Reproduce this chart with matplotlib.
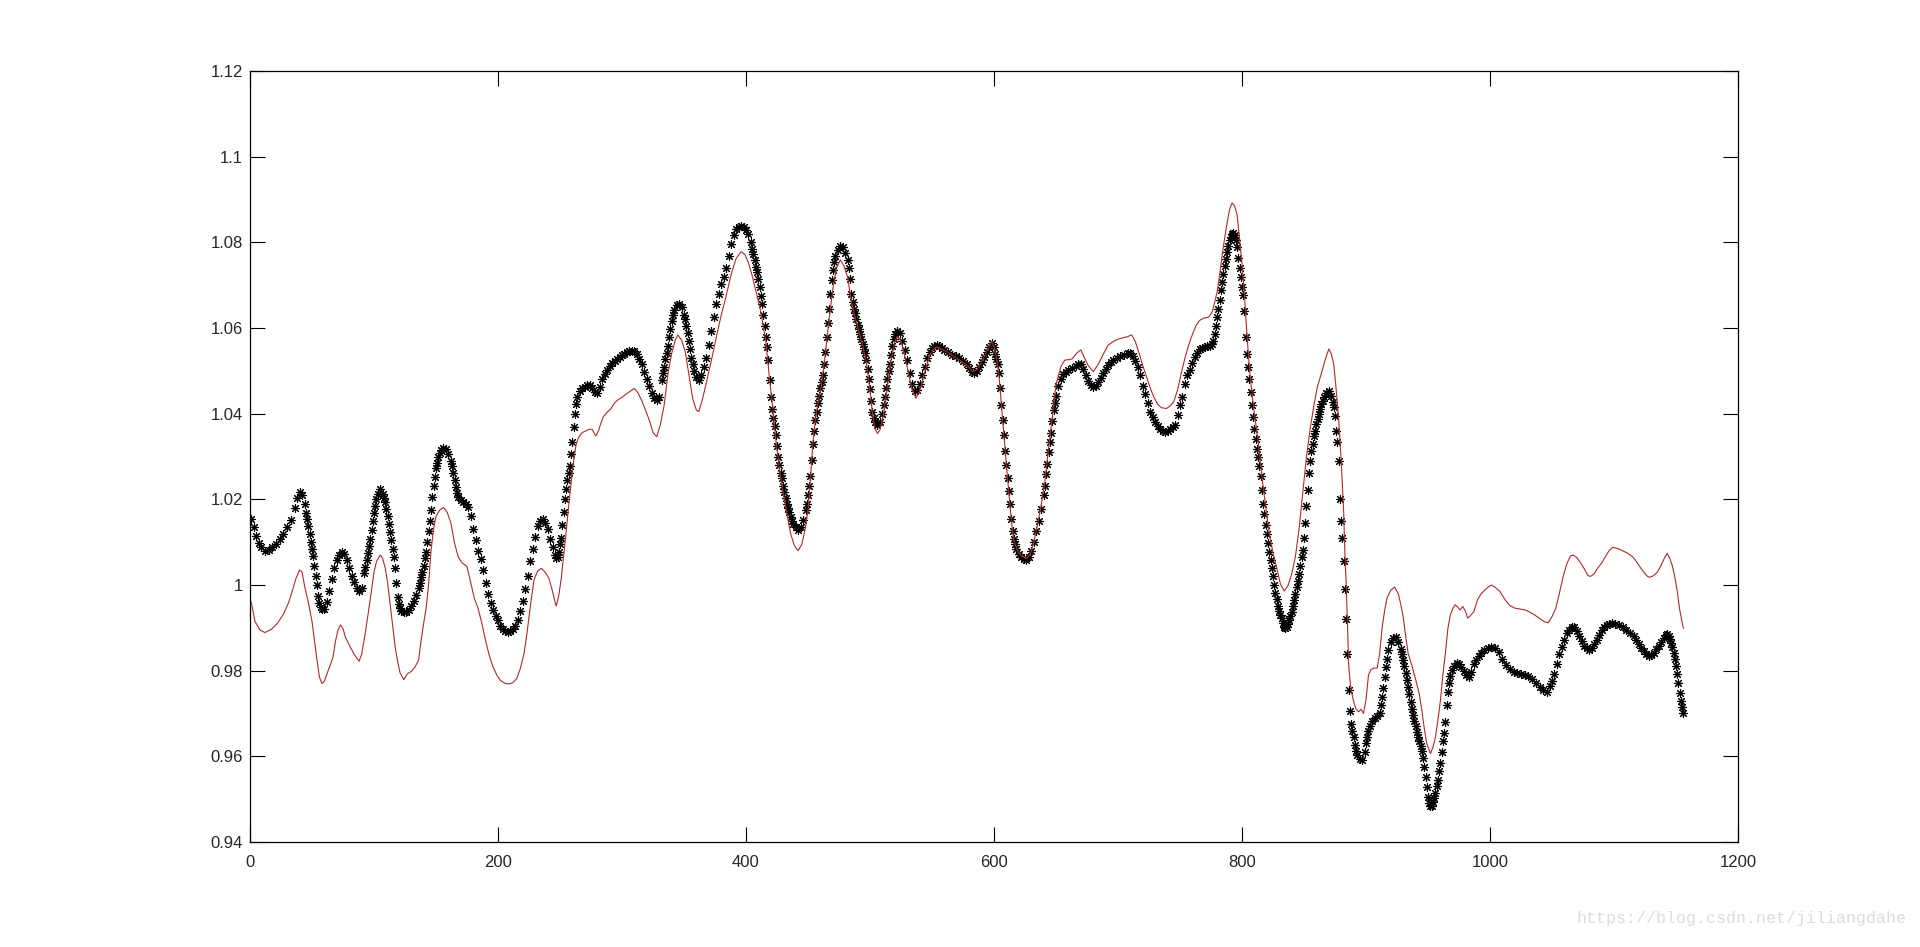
import matplotlib
matplotlib.use("Agg")
import matplotlib.pyplot as plt

# ---- data (sample index, value) ----
black_pts = [
 (1,1.0155),(3,1.0135),(5,1.0115),(7,1.0098),(9,1.0088),(12,1.0080),(15,1.0081),(18,1.0088),
 (21,1.0096),(24,1.0107),(27,1.0120),(30,1.0135),(33,1.0152),(36,1.0180),(38,1.0202),(40,1.0216),
 (42,1.0210),(44,1.0190),(45,1.0168),(46,1.0155),(47,1.0138),(48,1.0118),(49,1.0100),(50,1.0083),
 (51,1.0067),(52,1.0045),(53,1.0022),(54,1.0000),(55,0.9975),(56,0.9958),(57,0.9948),(58,0.9943),
 (60,0.9945),(62,0.9960),(64,0.9985),(66,1.0015),(68,1.0040),(70,1.0058),(72,1.0070),(74,1.0076),
 (76,1.0072),(78,1.0058),(80,1.0040),(82,1.0022),(84,1.0006),(86,0.9992),(88,0.9985),(90,0.9992),
 (92,1.0028),(93,1.0042),(94,1.0058),(95,1.0075),(96,1.0092),(97,1.0108),(98,1.0128),(99,1.0150),
 (100,1.0168),(101,1.0185),(102,1.0200),(103,1.0213),(105,1.0223),(107,1.0212),(108,1.0202),
 (109,1.0193),(110,1.0178),(111,1.0160),(112,1.0142),(113,1.0123),(114,1.0106),(115,1.0085),
 (116,1.0065),(117,1.0040),(118,1.0005),(119,0.9972),(120,0.9955),(121,0.9946),(122,0.9940),
 (124,0.9936),(126,0.9938),(128,0.9942),(130,0.9950),(132,0.9962),(134,0.9976),(136,0.9992),
 (137,1.0005),(138,1.0018),(139,1.0030),(140,1.0045),(141,1.0062),(142,1.0078),(143,1.0100),
 (144,1.0125),(145,1.0150),(146,1.0175),(147,1.0205),(148,1.0230),(149,1.0253),(150,1.0272),
 (151,1.0285),(152,1.0298),(153,1.0308),(154,1.0316),(156,1.0321),(158,1.0317),(160,1.0305),
 (162,1.0290),(163,1.0278),(164,1.0262),(165,1.0245),(166,1.0228),(167,1.0215),(168,1.0205),
 (170,1.0198),(172,1.0193),(174,1.0188),(176,1.0182),(178,1.0160),(180,1.0130),(182,1.0105),
 (184,1.0080),(186,1.0060),(188,1.0035),(190,1.0005),(192,0.9980),(194,0.9958),(196,0.9942),
 (198,0.9928),(200,0.9918),(202,0.9905),(204,0.9897),(206,0.9893),(208,0.9891),(210,0.9892),
 (212,0.9897),(214,0.9905),(216,0.9918),(218,0.9940),(220,0.9962),(222,0.9990),(224,1.0022),
 (226,1.0055),(228,1.0085),(230,1.0113),(232,1.0138),(234,1.0150),(236,1.0153),(238,1.0145),
 (240,1.0130),(242,1.0108),(244,1.0088),(246,1.0070),(247,1.0062),(248,1.0065),(249,1.0078),
 (250,1.0095),(251,1.0110),(252,1.0140),(253,1.0170),(254,1.0200),(255,1.0225),(256,1.0245),
 (257,1.0262),(258,1.0278),(259,1.0305),(260,1.0335),(261,1.0370),(262,1.0400),(263,1.0422),
 (264,1.0439),(266,1.0452),(268,1.0459),(270,1.0463),(272,1.0466),(274,1.0466),(276,1.0460),
 (278,1.0450),(280,1.0448),(282,1.0462),(284,1.0480),(286,1.0492),(288,1.0502),(290,1.0511),
 (292,1.0518),(294,1.0522),(296,1.0527),(298,1.0532),(300,1.0536),(302,1.0540),(304,1.0543),
 (306,1.0546),(308,1.0547),(310,1.0547),(312,1.0540),(314,1.0528),(316,1.0515),(318,1.0498),
 (320,1.0480),(322,1.0464),(324,1.0448),(326,1.0437),(328,1.0432),(330,1.0440),(332,1.0479),
 (333,1.0495),(334,1.0510),(335,1.0527),(336,1.0541),(337,1.0558),(338,1.0578),(339,1.0598),
 (340,1.0616),(341,1.0630),(342,1.0642),(344,1.0653),(346,1.0656),(348,1.0648),(350,1.0630),
 (351,1.0620),(352,1.0605),(353,1.0588),(354,1.0570),(355,1.0550),(356,1.0530),(357,1.0515),
 (358,1.0500),(360,1.0485),(362,1.0479),(364,1.0490),(366,1.0510),(368,1.0530),(370,1.0560),
 (372,1.0593),(374,1.0625),(376,1.0655),(378,1.0680),(380,1.0702),(382,1.0720),(384,1.0740),
 (386,1.0768),(388,1.0795),(390,1.0818),(392,1.0830),(394,1.0836),(396,1.0838),(398,1.0836),
 (400,1.0828),(402,1.0820),(404,1.0800),(405,1.0785),(406,1.0772),(407,1.0758),(408,1.0742),
 (409,1.0730),(410,1.0715),(411,1.0695),(412,1.0675),(413,1.0655),(414,1.0630),(415,1.0605),
 (416,1.0580),(417,1.0555),(418,1.0525),(419,1.0478),(420,1.0440),(421,1.0410),(422,1.0390),
 (423,1.0372),(424,1.0350),(425,1.0325),(426,1.0300),(427,1.0280),(428,1.0262),(429,1.0250),
 (430,1.0232),(431,1.0217),(432,1.0203),(433,1.0190),(434,1.0180),(435,1.0170),(436,1.0158),
 (437,1.0150),(438,1.0143),(440,1.0135),(442,1.0129),(444,1.0135),(446,1.0152),(448,1.0175),
 (449,1.0190),(450,1.0210),(451,1.0232),(452,1.0255),(453,1.0292),(454,1.0330),(455,1.0360),
 (456,1.0385),(457,1.0405),(458,1.0424),(459,1.0442),(460,1.0460),(461,1.0473),(462,1.0490),
 (463,1.0515),(464,1.0545),(465,1.0580),(466,1.0612),(467,1.0645),(468,1.0680),(469,1.0712),
 (470,1.0735),(471,1.0755),(472,1.0768),(474,1.0782),(476,1.0791),(478,1.0788),(480,1.0775),
 (482,1.0758),(483,1.0740),(484,1.0715),(485,1.0680),(486,1.0660),(487,1.0645),(488,1.0634),
 (489,1.0622),(490,1.0608),(491,1.0598),(492,1.0585),(493,1.0574),(494,1.0563),(495,1.0552),
 (496,1.0541),(497,1.0525),(498,1.0505),(499,1.0480),(500,1.0458),(501,1.0430),(502,1.0405),
 (503,1.0390),(504,1.0380),(506,1.0373),(508,1.0380),(510,1.0400),(511,1.0420),(512,1.0440),
 (513,1.0460),(514,1.0480),(515,1.0500),(516,1.0517),(517,1.0537),(518,1.0558),(519,1.0575),
 (520,1.0585),(522,1.0594),(524,1.0588),(526,1.0570),(528,1.0548),(530,1.0525),(532,1.0495),
 (534,1.0470),(536,1.0452),(538,1.0455),(540,1.0470),(542,1.0490),(544,1.0510),(546,1.0530),
 (548,1.0545),(550,1.0553),(552,1.0558),(554,1.0560),(556,1.0558),(558,1.0553),(560,1.0548),
 (563,1.0543),(566,1.0538),(569,1.0534),(572,1.0530),(575,1.0524),(578,1.0517),(580,1.0506),
 (582,1.0497),(584,1.0494),(586,1.0500),(588,1.0510),(590,1.0520),(592,1.0532),(594,1.0545),
 (596,1.0556),(598,1.0564),(600,1.0556),(601,1.0540),(602,1.0528),(603,1.0515),(604,1.0495),
 (605,1.0460),(606,1.0420),(607,1.0385),(608,1.0350),(609,1.0312),(610,1.0280),(611,1.0250),
 (612,1.0220),(613,1.0190),(614,1.0155),(615,1.0125),(616,1.0108),(617,1.0095),(618,1.0084),
 (620,1.0072),(622,1.0066),(624,1.0061),(626,1.0058),(628,1.0065),(630,1.0080),(632,1.0100),
 (634,1.0125),(636,1.0150),(638,1.0178),(640,1.0210),(641,1.0230),(642,1.0258),(643,1.0282),
 (644,1.0310),(645,1.0335),(646,1.0355),(647,1.0382),(648,1.0408),(649,1.0425),(650,1.0442),
 (652,1.0465),(654,1.0482),(656,1.0492),(658,1.0498),(660,1.0502),(663,1.0506),(666,1.0511),
 (668,1.0515),(670,1.0517),(672,1.0505),(674,1.0490),(676,1.0477),(678,1.0468),(680,1.0463),
 (682,1.0465),(684,1.0473),(686,1.0484),(688,1.0494),(690,1.0504),(692,1.0513),(694,1.0520),
 (696,1.0525),(699,1.0530),(702,1.0535),(705,1.0538),(708,1.0541),(710,1.0542),(712,1.0535),
 (714,1.0522),(716,1.0508),(718,1.0490),(720,1.0465),(722,1.0445),(724,1.0425),(726,1.0405),
 (728,1.0392),(730,1.0380),(732,1.0372),(734,1.0365),(736,1.0360),(738,1.0358),(740,1.0360),
 (742,1.0365),(744,1.0369),(746,1.0374),(748,1.0398),(750,1.0420),(752,1.0440),(754,1.0470),
 (756,1.0490),(758,1.0503),(760,1.0518),(762,1.0532),(764,1.0542),(766,1.0550),(768,1.0554),
 (770,1.0556),(772,1.0557),(774,1.0558),(776,1.0563),(777,1.0570),(778,1.0585),(779,1.0605),
 (780,1.0625),(781,1.0645),(782,1.0665),(783,1.0688),(784,1.0708),(785,1.0725),(786,1.0745),
 (787,1.0762),(788,1.0778),(789,1.0792),(790,1.0805),(791,1.0813),(792,1.0819),(793,1.0821),
 (794,1.0816),(795,1.0805),(796,1.0790),(797,1.0764),(798,1.0740),(799,1.0718),(800,1.0695),
 (801,1.0676),(802,1.0640),(803,1.0580),(804,1.0540),(805,1.0510),(806,1.0480),(807,1.0450),
 (808,1.0420),(809,1.0392),(810,1.0365),(811,1.0340),(812,1.0318),(813,1.0300),(814,1.0278),
 (815,1.0255),(816,1.0222),(817,1.0190),(818,1.0165),(819,1.0140),(820,1.0118),(821,1.0098),
 (822,1.0078),(823,1.0058),(824,1.0040),(825,1.0020),(826,1.0000),(827,0.9982),(828,0.9968),
 (829,0.9952),(830,0.9940),(831,0.9930),(832,0.9922),(833,0.9912),(834,0.9902),(835,0.9899),
 (836,0.9902),(837,0.9910),(838,0.9918),(839,0.9928),(840,0.9938),(841,0.9952),(842,0.9965),
 (843,0.9980),(844,0.9995),(845,1.0010),(846,1.0025),(847,1.0045),(848,1.0065),(849,1.0082),
 (850,1.0110),(851,1.0145),(852,1.0185),(853,1.0222),(854,1.0262),(855,1.0290),(856,1.0312),
 (857,1.0330),(858,1.0348),(859,1.0360),(860,1.0375),(861,1.0388),(862,1.0400),(863,1.0412),
 (864,1.0422),(865,1.0430),(866,1.0438),(868,1.0448),(870,1.0452),(872,1.0442),(873,1.0428),
 (874,1.0415),(875,1.0395),(876,1.0360),(877,1.0335),(878,1.0290),(879,1.0200),(880,1.0150),
 (881,1.0110),(882,1.0055),(883,0.9990),(884,0.9920),(885,0.9840),(886,0.9755),(887,0.9705),
 (888,0.9675),(889,0.9660),(890,0.9645),(891,0.9626),(892,0.9612),(893,0.9602),(895,0.9594),
 (897,0.9592),(899,0.9610),(900,0.9630),(901,0.9645),(902,0.9660),(903,0.9670),(905,0.9682),
 (907,0.9689),(909,0.9695),(911,0.9701),(912,0.9720),(913,0.9738),(914,0.9760),(915,0.9785),
 (916,0.9808),(917,0.9828),(918,0.9848),(920,0.9868),(922,0.9876),(924,0.9878),(926,0.9866),
 (928,0.9850),(929,0.9840),(930,0.9825),(931,0.9812),(932,0.9795),(933,0.9778),(934,0.9763),
 (935,0.9745),(936,0.9728),(937,0.9710),(938,0.9697),(939,0.9683),(940,0.9670),(941,0.9657),
 (942,0.9646),(943,0.9635),(944,0.9624),(945,0.9612),(946,0.9595),(947,0.9576),(948,0.9552),
 (949,0.9528),(950,0.9505),(951,0.9490),(952,0.9483),(953,0.9485),(954,0.9493),(955,0.9503),
 (956,0.9515),(957,0.9530),(958,0.9545),(959,0.9565),(960,0.9584),(961,0.9610),(962,0.9635),
 (963,0.9655),(964,0.9680),(965,0.9720),(966,0.9750),(967,0.9772),(968,0.9788),(969,0.9801),
 (971,0.9812),(973,0.9817),(975,0.9815),(977,0.9808),(979,0.9800),(981,0.9791),(983,0.9786),
 (985,0.9798),(987,0.9815),(989,0.9826),(991,0.9835),(993,0.9842),(995,0.9848),(998,0.9854),
 (1001,0.9856),(1004,0.9852),(1007,0.9843),(1010,0.9828),(1013,0.9814),(1016,0.9803),
 (1019,0.9797),(1022,0.9795),(1025,0.9793),(1028,0.9790),(1031,0.9787),(1034,0.9780),
 (1037,0.9771),(1040,0.9762),(1043,0.9755),(1046,0.9751),(1048,0.9764),(1050,0.9777),
 (1052,0.9793),(1054,0.9815),(1056,0.9838),(1058,0.9855),(1060,0.9872),(1062,0.9888),
 (1064,0.9896),(1066,0.9901),(1068,0.9903),(1070,0.9893),(1072,0.9882),(1074,0.9870),
 (1076,0.9858),(1078,0.9852),(1080,0.9849),(1082,0.9853),(1084,0.9862),(1086,0.9872),
 (1088,0.9884),(1090,0.9894),(1092,0.9901),(1094,0.9906),(1096,0.9910),(1098,0.9912),
 (1101,0.9910),(1104,0.9907),(1107,0.9903),(1110,0.9896),(1113,0.9889),(1116,0.9880),
 (1118,0.9872),(1120,0.9862),(1122,0.9853),(1124,0.9845),(1126,0.9839),(1128,0.9835),
 (1130,0.9836),(1132,0.9842),(1134,0.9850),(1136,0.9857),(1138,0.9866),(1140,0.9876),
 (1142,0.9884),(1143,0.9886),(1144,0.9882),(1145,0.9875),(1146,0.9864),(1147,0.9855),
 (1148,0.9841),(1149,0.9828),(1150,0.9812),(1151,0.9793),(1152,0.9771),(1153,0.9748),
 (1154,0.9730),(1155,0.9715),(1156,0.9702),
]

red_pts = [
 (1,0.9960),(4,0.9915),(8,0.9895),(12,0.9889),(17,0.9896),(22,0.9910),(27,0.9932),(31,0.9958),
 (34,0.9985),(37,1.0015),(40,1.0035),(42,1.0030),(44,0.9998),(47,0.9960),(50,0.9915),(52,0.9870),
 (54,0.9825),(56,0.9785),(58,0.9770),(60,0.9775),(63,0.9800),(65,0.9815),(67,0.9833),(69,0.9870),
 (71,0.9895),(73,0.9907),(75,0.9898),(77,0.9878),(80,0.9860),(84,0.9838),(88,0.9822),(90,0.9838),
 (93,0.9888),(97,0.9967),(100,1.0030),(102,1.0055),(105,1.0070),(107,1.0062),(109,1.0040),
 (111,1.0005),(113,0.9955),(115,0.9905),(117,0.9857),(119,0.9822),(121,0.9795),(124,0.9779),
 (127,0.9793),(130,0.9798),(133,0.9808),(136,0.9825),(138,0.9870),(140,0.9910),(142,0.9945),
 (144,1.0000),(146,1.0080),(148,1.0130),(150,1.0160),(153,1.0175),(156,1.0181),(159,1.0170),
 (162,1.0145),(165,1.0097),(168,1.0065),(171,1.0052),(175,1.0043),(178,1.0005),(181,0.9968),
 (184,0.9945),(187,0.9910),(190,0.9870),(193,0.9835),(196,0.9809),(199,0.9790),(202,0.9777),
 (206,0.9770),(209,0.9769),(212,0.9772),(215,0.9781),(218,0.9805),(221,0.9840),(223,0.9880),
 (225,0.9925),(227,0.9970),(229,1.0012),(232,1.0033),(235,1.0039),(238,1.0030),(241,1.0016),
 (244,0.9985),(246,0.9960),(247,0.9951),(249,0.9975),(251,1.0015),(253,1.0070),(255,1.0125),
 (257,1.0185),(259,1.0240),(261,1.0290),(263,1.0328),(265,1.0345),(268,1.0356),(271,1.0360),
 (274,1.0364),(276,1.0363),(278,1.0352),(279,1.0348),(281,1.0360),(283,1.0378),(285,1.0393),
 (288,1.0403),(291,1.0411),(294,1.0425),(297,1.0433),(300,1.0438),(303,1.0445),(306,1.0451),
 (310,1.0459),(313,1.0448),(316,1.0430),(319,1.0408),(322,1.0385),(325,1.0356),(328,1.0346),
 (331,1.0375),(334,1.0420),(337,1.0492),(340,1.0540),(343,1.0572),(345,1.0584),(348,1.0572),
 (351,1.0545),(354,1.0490),(357,1.0435),(360,1.0408),(362,1.0405),(365,1.0435),(368,1.0472),
 (372,1.0523),(376,1.0578),(380,1.0630),(384,1.0675),(388,1.0725),(392,1.0762),(396,1.0778),
 (399,1.0772),(402,1.0752),(405,1.0722),(408,1.0686),(411,1.0650),(413,1.0620),(416,1.0570),
 (419,1.0480),(421,1.0430),(424,1.0340),(427,1.0270),(430,1.0215),(433,1.0165),(436,1.0120),
 (439,1.0092),(442,1.0080),(445,1.0095),(448,1.0135),(450,1.0175),(452,1.0250),(454,1.0335),
 (456,1.0385),(458,1.0424),(461,1.0470),(464,1.0540),(467,1.0620),(470,1.0690),(473,1.0740),
 (476,1.0759),(479,1.0745),(482,1.0718),(485,1.0660),(488,1.0625),(491,1.0592),(494,1.0560),
 (497,1.0520),(500,1.0455),(502,1.0400),(504,1.0365),(506,1.0354),(508,1.0362),(511,1.0400),
 (514,1.0465),(517,1.0525),(520,1.0568),(522,1.0580),(525,1.0570),(528,1.0535),(531,1.0495),
 (534,1.0455),(537,1.0436),(540,1.0452),(544,1.0495),(548,1.0535),(551,1.0550),(554,1.0556),
 (558,1.0550),(562,1.0545),(566,1.0537),(570,1.0530),(575,1.0520),(579,1.0510),(583,1.0498),
 (586,1.0502),(590,1.0520),(594,1.0545),(598,1.0568),(600,1.0558),(602,1.0530),(604,1.0490),
 (606,1.0420),(608,1.0350),(610,1.0280),(612,1.0215),(614,1.0150),(616,1.0105),(619,1.0080),
 (622,1.0068),(626,1.0062),(629,1.0070),(632,1.0098),(635,1.0140),(638,1.0185),(641,1.0240),
 (644,1.0320),(647,1.0390),(650,1.0468),(654,1.0510),(657,1.0525),(660,1.0526),(663,1.0528),
 (667,1.0542),(670,1.0549),(673,1.0530),(676,1.0512),(680,1.0498),(684,1.0515),(688,1.0538),
 (692,1.0560),(696,1.0568),(700,1.0574),(704,1.0577),(708,1.0580),(711,1.0584),(714,1.0568),
 (717,1.0541),(720,1.0512),(723,1.0486),(726,1.0460),(729,1.0438),(732,1.0422),(735,1.0414),
 (739,1.0412),(742,1.0418),(745,1.0428),(748,1.0455),(751,1.0494),(754,1.0530),(757,1.0560),
 (760,1.0585),(763,1.0606),(766,1.0618),(769,1.0623),(773,1.0625),(776,1.0638),(778,1.0660),
 (780,1.0685),(782,1.0725),(784,1.0770),(786,1.0810),(788,1.0845),(790,1.0877),(792,1.0892),
 (794,1.0885),(796,1.0865),(798,1.0810),(800,1.0750),(802,1.0675),(804,1.0585),(806,1.0505),
 (808,1.0448),(810,1.0400),(813,1.0335),(816,1.0255),(819,1.0185),(822,1.0120),(825,1.0075),
 (828,1.0040),(831,1.0002),(834,0.9986),(837,0.9998),(840,1.0025),(843,1.0065),(846,1.0130),
 (849,1.0215),(852,1.0300),(855,1.0365),(858,1.0420),(861,1.0465),(864,1.0494),(867,1.0525),
 (870,1.0551),(872,1.0540),(874,1.0515),(876,1.0455),(878,1.0385),(880,1.0290),(882,1.0170),
 (883,1.0070),(884,1.0005),(885,0.9915),(886,0.9815),(887,0.9780),(888,0.9755),(890,0.9728),
 (892,0.9710),(894,0.9704),(896,0.9710),(898,0.9700),(900,0.9732),(902,0.9790),(904,0.9802),
 (906,0.9806),(909,0.9806),(911,0.9840),(913,0.9900),(915,0.9940),(917,0.9970),(920,0.9988),
 (923,0.9995),(926,0.9980),(928,0.9955),(930,0.9926),(932,0.9880),(934,0.9840),(937,0.9812),
 (940,0.9780),(943,0.9745),(945,0.9708),(947,0.9665),(949,0.9630),(952,0.9606),(954,0.9622),
 (956,0.9645),(958,0.9685),(960,0.9730),(962,0.9790),(964,0.9840),(966,0.9898),(968,0.9930),
 (970,0.9945),(972,0.9954),(974,0.9948),(976,0.9942),(978,0.9950),(980,0.9940),(982,0.9923),
 (984,0.9928),(987,0.9938),(990,0.9966),(993,0.9980),(996,0.9989),(999,0.9996),(1001,1.0000),
 (1004,0.9995),(1008,0.9985),(1012,0.9966),(1016,0.9952),(1020,0.9946),(1024,0.9944),
 (1028,0.9942),(1032,0.9937),(1036,0.9930),(1040,0.9922),(1044,0.9914),(1047,0.9912),
 (1050,0.9926),(1053,0.9945),(1056,0.9981),(1059,1.0020),(1062,1.0050),(1065,1.0068),
 (1067,1.0070),(1070,1.0064),(1073,1.0052),(1076,1.0038),(1079,1.0022),(1081,1.0020),
 (1084,1.0026),(1087,1.0040),(1090,1.0051),(1093,1.0066),(1096,1.0080),(1099,1.0088),
 (1103,1.0085),(1107,1.0080),(1111,1.0074),(1115,1.0066),(1118,1.0055),(1121,1.0042),
 (1124,1.0030),(1127,1.0020),(1129,1.0018),(1132,1.0022),(1135,1.0030),(1138,1.0046),
 (1141,1.0065),(1143,1.0074),(1145,1.0062),(1147,1.0045),(1149,1.0020),(1151,0.9985),
 (1153,0.9942),(1155,0.9912),(1156,0.9899),
]

x_ticks = [0, 200, 400, 600, 800, 1000, 1200]
y_ticks = [0.94, 0.96, 0.98, 1.00, 1.02, 1.04, 1.06, 1.08, 1.10, 1.12]
y_tick_labels = ["0.94", "0.96", "0.98", "1", "1.02", "1.04", "1.06", "1.08", "1.1", "1.12"]
watermark = "https://blog.csdn.net/jiliangdahe"

black_x = [p[0] for p in black_pts]
black_y = [p[1] for p in black_pts]
red_x = [p[0] for p in red_pts]
red_y = [p[1] for p in red_pts]

plt.rcParams['font.family'] = ['Liberation Sans', 'DejaVu Sans']

fig = plt.figure(figsize=(19.2, 9.47), dpi=100)
ax = fig.add_axes([250/1920, 1 - 842/947, (1738 - 250)/1920, (842 - 71)/947])

ax.plot(black_x, black_y, linestyle='none', marker=(8, 2, 0), markersize=6.5,
        markeredgewidth=0.8, color='black')
ax.plot(red_x, red_y, color='#b02a2a', linewidth=0.8)

ax.set_xlim(0, 1200)
ax.set_ylim(0.94, 1.12)
ax.set_xticks(x_ticks)
ax.set_xticklabels([str(t) for t in x_ticks])
ax.set_yticks(y_ticks)
ax.set_yticklabels(y_tick_labels)
ax.tick_params(direction='in', length=10.8, width=0.8, top=True, right=True,
               labelsize=12, labelcolor='#262626', color='black')
ax.tick_params(axis='x', pad=9)
ax.tick_params(axis='y', pad=5)
for s in ax.spines.values():
    s.set_linewidth(0.9)
    s.set_color('black')

fig.text(0.993, 0.022, watermark, ha='right', va='bottom', fontsize=12,
         family='Liberation Mono', color='#dcdcdc')

fig.savefig('out.png', dpi=100)
